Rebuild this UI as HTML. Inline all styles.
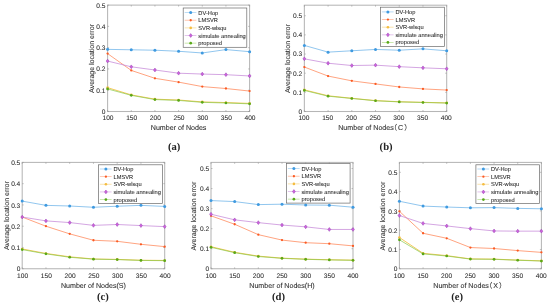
<!DOCTYPE html>
<html><head><meta charset="utf-8"><title>Figure</title>
<style>
html,body{margin:0;padding:0;background:#fff;}
body{width:550px;height:306px;overflow:hidden;}
svg{display:block;filter:blur(0.3px);}
.t{font-family:"Liberation Sans","Noto Sans CJK SC",sans-serif;fill:#2e2e2e;text-rendering:geometricPrecision;stroke:#2e2e2e;stroke-width:0.08px;}
.cap{font-family:"Liberation Serif",serif;font-weight:bold;font-size:10.6px;fill:#222;text-rendering:geometricPrecision;}
</style></head><body>
<svg width="550" height="306" viewBox="0 0 550 306">
<rect width="550" height="306" fill="#fff"/>
<g>
<g class="plot" id="pa">
<rect x="107.60" y="5.10" width="142.00" height="106.40" fill="#fff" stroke="#b6b6b6" stroke-width="1.05"/>
<path d="M107.60 111.50v-1.5M107.60 5.10v1.5" stroke="#8a8a8a" stroke-width="0.5"/>
<text x="108.00" y="120.30" class="t" text-anchor="middle" font-size="6.6">100</text>
<path d="M131.27 111.50v-1.5M131.27 5.10v1.5" stroke="#8a8a8a" stroke-width="0.5"/>
<text x="131.67" y="120.30" class="t" text-anchor="middle" font-size="6.6">150</text>
<path d="M154.93 111.50v-1.5M154.93 5.10v1.5" stroke="#8a8a8a" stroke-width="0.5"/>
<text x="155.33" y="120.30" class="t" text-anchor="middle" font-size="6.6">200</text>
<path d="M178.60 111.50v-1.5M178.60 5.10v1.5" stroke="#8a8a8a" stroke-width="0.5"/>
<text x="179.00" y="120.30" class="t" text-anchor="middle" font-size="6.6">250</text>
<path d="M202.27 111.50v-1.5M202.27 5.10v1.5" stroke="#8a8a8a" stroke-width="0.5"/>
<text x="202.67" y="120.30" class="t" text-anchor="middle" font-size="6.6">300</text>
<path d="M225.93 111.50v-1.5M225.93 5.10v1.5" stroke="#8a8a8a" stroke-width="0.5"/>
<text x="226.33" y="120.30" class="t" text-anchor="middle" font-size="6.6">350</text>
<path d="M249.60 111.50v-1.5M249.60 5.10v1.5" stroke="#8a8a8a" stroke-width="0.5"/>
<text x="250.00" y="120.30" class="t" text-anchor="middle" font-size="6.6">400</text>
<path d="M107.60 111.50h1.5M249.60 111.50h-1.5" stroke="#8a8a8a" stroke-width="0.5"/>
<text x="105.40" y="113.90" class="t" text-anchor="end" font-size="6.6">0</text>
<path d="M107.60 90.22h1.5M249.60 90.22h-1.5" stroke="#8a8a8a" stroke-width="0.5"/>
<text x="105.40" y="92.62" class="t" text-anchor="end" font-size="6.6">0.1</text>
<path d="M107.60 68.94h1.5M249.60 68.94h-1.5" stroke="#8a8a8a" stroke-width="0.5"/>
<text x="105.40" y="71.34" class="t" text-anchor="end" font-size="6.6">0.2</text>
<path d="M107.60 47.66h1.5M249.60 47.66h-1.5" stroke="#8a8a8a" stroke-width="0.5"/>
<text x="105.40" y="50.06" class="t" text-anchor="end" font-size="6.6">0.3</text>
<path d="M107.60 26.38h1.5M249.60 26.38h-1.5" stroke="#8a8a8a" stroke-width="0.5"/>
<text x="105.40" y="28.78" class="t" text-anchor="end" font-size="6.6">0.4</text>
<path d="M107.60 5.10h1.5M249.60 5.10h-1.5" stroke="#8a8a8a" stroke-width="0.5"/>
<text x="105.40" y="7.50" class="t" text-anchor="end" font-size="6.6">0.5</text>
<text x="178.60" y="129.90" class="t" text-anchor="middle" font-size="7.1">Number of Nodes</text>
<text transform="translate(93.90 58.50) rotate(-90)" class="t" text-anchor="middle" font-size="7.0">Average location error</text>
<polyline points="107.60,49.36 131.27,49.79 154.93,50.21 178.60,51.28 202.27,52.98 225.93,49.58 249.60,51.70" fill="none" stroke="#62aee6" stroke-width="0.7" stroke-linejoin="round"/>
<circle cx="107.60" cy="49.36" r="1.5" fill="#3f9ae0"/>
<circle cx="131.27" cy="49.79" r="1.5" fill="#3f9ae0"/>
<circle cx="154.93" cy="50.21" r="1.5" fill="#3f9ae0"/>
<circle cx="178.60" cy="51.28" r="1.5" fill="#3f9ae0"/>
<circle cx="202.27" cy="52.98" r="1.5" fill="#3f9ae0"/>
<circle cx="225.93" cy="49.58" r="1.5" fill="#3f9ae0"/>
<circle cx="249.60" cy="51.70" r="1.5" fill="#3f9ae0"/>
<polyline points="107.60,53.62 131.27,70.43 154.93,78.30 178.60,82.13 202.27,86.60 225.93,88.52 249.60,91.07" fill="none" stroke="#ff7c4a" stroke-width="0.7" stroke-linejoin="round"/>
<circle cx="107.60" cy="53.62" r="1.15" fill="#fb5a22"/>
<circle cx="131.27" cy="70.43" r="1.15" fill="#fb5a22"/>
<circle cx="154.93" cy="78.30" r="1.15" fill="#fb5a22"/>
<circle cx="178.60" cy="82.13" r="1.15" fill="#fb5a22"/>
<circle cx="202.27" cy="86.60" r="1.15" fill="#fb5a22"/>
<circle cx="225.93" cy="88.52" r="1.15" fill="#fb5a22"/>
<circle cx="249.60" cy="91.07" r="1.15" fill="#fb5a22"/>
<polyline points="107.60,87.67 131.27,94.90 154.93,99.16 178.60,100.01 202.27,101.92 225.93,102.56 249.60,103.41" fill="none" stroke="#f2c24a" stroke-width="0.9" stroke-linejoin="round"/>
<circle cx="107.60" cy="87.67" r="1.3" fill="#f4bc40"/>
<circle cx="131.27" cy="94.90" r="1.3" fill="#f4bc40"/>
<circle cx="154.93" cy="99.16" r="1.3" fill="#f4bc40"/>
<circle cx="178.60" cy="100.01" r="1.3" fill="#f4bc40"/>
<circle cx="202.27" cy="101.92" r="1.3" fill="#f4bc40"/>
<circle cx="225.93" cy="102.56" r="1.3" fill="#f4bc40"/>
<circle cx="249.60" cy="103.41" r="1.3" fill="#f4bc40"/>
<polyline points="107.60,61.07 131.27,66.81 154.93,70.00 178.60,73.20 202.27,74.05 225.93,74.69 249.60,75.96" fill="none" stroke="#c27fd6" stroke-width="0.7" stroke-linejoin="round"/>
<path d="M107.60 59.17l1.4 1.9l-1.4 1.9l-1.4 -1.9z" fill="#cf62dc" stroke="#9c45ba" stroke-width="0.55" stroke-linejoin="round"/>
<path d="M131.27 64.91l1.4 1.9l-1.4 1.9l-1.4 -1.9z" fill="#cf62dc" stroke="#9c45ba" stroke-width="0.55" stroke-linejoin="round"/>
<path d="M154.93 68.10l1.4 1.9l-1.4 1.9l-1.4 -1.9z" fill="#cf62dc" stroke="#9c45ba" stroke-width="0.55" stroke-linejoin="round"/>
<path d="M178.60 71.30l1.4 1.9l-1.4 1.9l-1.4 -1.9z" fill="#cf62dc" stroke="#9c45ba" stroke-width="0.55" stroke-linejoin="round"/>
<path d="M202.27 72.15l1.4 1.9l-1.4 1.9l-1.4 -1.9z" fill="#cf62dc" stroke="#9c45ba" stroke-width="0.55" stroke-linejoin="round"/>
<path d="M225.93 72.79l1.4 1.9l-1.4 1.9l-1.4 -1.9z" fill="#cf62dc" stroke="#9c45ba" stroke-width="0.55" stroke-linejoin="round"/>
<path d="M249.60 74.06l1.4 1.9l-1.4 1.9l-1.4 -1.9z" fill="#cf62dc" stroke="#9c45ba" stroke-width="0.55" stroke-linejoin="round"/>
<polyline points="107.60,88.94 131.27,95.33 154.93,99.58 178.60,100.43 202.27,102.35 225.93,102.99 249.60,103.84" fill="none" stroke="#86c848" stroke-width="0.7" stroke-linejoin="round"/>
<circle cx="107.60" cy="88.94" r="1.35" fill="#58a818"/>
<circle cx="131.27" cy="95.33" r="1.35" fill="#58a818"/>
<circle cx="154.93" cy="99.58" r="1.35" fill="#58a818"/>
<circle cx="178.60" cy="100.43" r="1.35" fill="#58a818"/>
<circle cx="202.27" cy="102.35" r="1.35" fill="#58a818"/>
<circle cx="225.93" cy="102.99" r="1.35" fill="#58a818"/>
<circle cx="249.60" cy="103.84" r="1.35" fill="#58a818"/>
<rect x="183.20" y="8.00" width="63.60" height="39.30" fill="#fff" stroke="#6a6a6a" stroke-width="0.7"/>
<path d="M184.70 12.60h11.7" stroke="#62aee6" stroke-width="0.7" opacity="0.65"/>
<circle cx="190.70" cy="12.60" r="1.5" fill="#3f9ae0"/>
<text x="198.30" y="14.60" class="t" font-size="5.7">DV-Hop</text>
<path d="M184.70 20.24h11.7" stroke="#ff7c4a" stroke-width="0.7" opacity="0.65"/>
<circle cx="190.70" cy="20.24" r="1.15" fill="#fb5a22"/>
<text x="198.30" y="22.24" class="t" font-size="5.7">LMSVR</text>
<path d="M184.70 27.88h11.7" stroke="#f2c24a" stroke-width="0.7" opacity="0.65"/>
<circle cx="190.70" cy="27.88" r="1.3" fill="#f4bc40"/>
<text x="198.30" y="29.88" class="t" font-size="5.7">SVR-wlsqu</text>
<path d="M184.70 35.52h11.7" stroke="#c27fd6" stroke-width="0.7" opacity="0.65"/>
<path d="M190.70 33.62l1.4 1.9l-1.4 1.9l-1.4 -1.9z" fill="#cf62dc" stroke="#9c45ba" stroke-width="0.55" stroke-linejoin="round"/>
<text x="198.30" y="37.52" class="t" font-size="5.7">simulate annealing</text>
<path d="M184.70 43.16h11.7" stroke="#86c848" stroke-width="0.7" opacity="0.65"/>
<circle cx="190.70" cy="43.16" r="1.35" fill="#58a818"/>
<text x="198.30" y="45.16" class="t" font-size="5.7">proposed</text>
<text x="174.1" y="149.5" class="cap" text-anchor="middle">(a)</text>
</g>
<g class="plot" id="pb">
<rect x="304.35" y="5.20" width="142.35" height="106.30" fill="#fff" stroke="#b6b6b6" stroke-width="1.05"/>
<path d="M304.35 111.50v-1.5M304.35 5.20v1.5" stroke="#8a8a8a" stroke-width="0.5"/>
<text x="303.95" y="120.30" class="t" text-anchor="middle" font-size="6.6">100</text>
<path d="M328.08 111.50v-1.5M328.08 5.20v1.5" stroke="#8a8a8a" stroke-width="0.5"/>
<text x="327.68" y="120.30" class="t" text-anchor="middle" font-size="6.6">150</text>
<path d="M351.80 111.50v-1.5M351.80 5.20v1.5" stroke="#8a8a8a" stroke-width="0.5"/>
<text x="351.40" y="120.30" class="t" text-anchor="middle" font-size="6.6">200</text>
<path d="M375.52 111.50v-1.5M375.52 5.20v1.5" stroke="#8a8a8a" stroke-width="0.5"/>
<text x="375.12" y="120.30" class="t" text-anchor="middle" font-size="6.6">250</text>
<path d="M399.25 111.50v-1.5M399.25 5.20v1.5" stroke="#8a8a8a" stroke-width="0.5"/>
<text x="398.85" y="120.30" class="t" text-anchor="middle" font-size="6.6">300</text>
<path d="M422.98 111.50v-1.5M422.98 5.20v1.5" stroke="#8a8a8a" stroke-width="0.5"/>
<text x="422.58" y="120.30" class="t" text-anchor="middle" font-size="6.6">350</text>
<path d="M446.70 111.50v-1.5M446.70 5.20v1.5" stroke="#8a8a8a" stroke-width="0.5"/>
<text x="446.30" y="120.30" class="t" text-anchor="middle" font-size="6.6">400</text>
<path d="M304.35 111.50h1.5M446.70 111.50h-1.5" stroke="#8a8a8a" stroke-width="0.5"/>
<text x="302.15" y="113.90" class="t" text-anchor="end" font-size="6.6">0</text>
<path d="M304.35 92.35h1.5M446.70 92.35h-1.5" stroke="#8a8a8a" stroke-width="0.5"/>
<text x="302.15" y="94.75" class="t" text-anchor="end" font-size="6.6">0.1</text>
<path d="M304.35 73.19h1.5M446.70 73.19h-1.5" stroke="#8a8a8a" stroke-width="0.5"/>
<text x="302.15" y="75.59" class="t" text-anchor="end" font-size="6.6">0.2</text>
<path d="M304.35 54.04h1.5M446.70 54.04h-1.5" stroke="#8a8a8a" stroke-width="0.5"/>
<text x="302.15" y="56.44" class="t" text-anchor="end" font-size="6.6">0.3</text>
<path d="M304.35 34.89h1.5M446.70 34.89h-1.5" stroke="#8a8a8a" stroke-width="0.5"/>
<text x="302.15" y="37.29" class="t" text-anchor="end" font-size="6.6">0.4</text>
<path d="M304.35 15.73h1.5M446.70 15.73h-1.5" stroke="#8a8a8a" stroke-width="0.5"/>
<text x="302.15" y="18.13" class="t" text-anchor="end" font-size="6.6">0.5</text>
<text x="374.82" y="129.90" class="t" text-anchor="middle" font-size="7.1">Number of Nodes<tspan dx="-3.7">（</tspan><tspan dx="0.9">C</tspan><tspan dx="1.1">）</tspan></text>
<text transform="translate(289.95 58.55) rotate(-90)" class="t" text-anchor="middle" font-size="7.0">Average location error</text>
<polyline points="304.35,45.42 328.08,52.13 351.80,50.78 375.52,49.44 399.25,50.21 422.98,48.87 446.70,50.78" fill="none" stroke="#62aee6" stroke-width="0.7" stroke-linejoin="round"/>
<circle cx="304.35" cy="45.42" r="1.5" fill="#3f9ae0"/>
<circle cx="328.08" cy="52.13" r="1.5" fill="#3f9ae0"/>
<circle cx="351.80" cy="50.78" r="1.5" fill="#3f9ae0"/>
<circle cx="375.52" cy="49.44" r="1.5" fill="#3f9ae0"/>
<circle cx="399.25" cy="50.21" r="1.5" fill="#3f9ae0"/>
<circle cx="422.98" cy="48.87" r="1.5" fill="#3f9ae0"/>
<circle cx="446.70" cy="50.78" r="1.5" fill="#3f9ae0"/>
<polyline points="304.35,67.06 328.08,76.07 351.80,80.85 375.52,83.92 399.25,86.98 422.98,88.90 446.70,90.05" fill="none" stroke="#ff7c4a" stroke-width="0.7" stroke-linejoin="round"/>
<circle cx="304.35" cy="67.06" r="1.15" fill="#fb5a22"/>
<circle cx="328.08" cy="76.07" r="1.15" fill="#fb5a22"/>
<circle cx="351.80" cy="80.85" r="1.15" fill="#fb5a22"/>
<circle cx="375.52" cy="83.92" r="1.15" fill="#fb5a22"/>
<circle cx="399.25" cy="86.98" r="1.15" fill="#fb5a22"/>
<circle cx="422.98" cy="88.90" r="1.15" fill="#fb5a22"/>
<circle cx="446.70" cy="90.05" r="1.15" fill="#fb5a22"/>
<polyline points="304.35,89.86 328.08,95.79 351.80,98.28 375.52,100.58 399.25,101.73 422.98,102.31 446.70,102.88" fill="none" stroke="#f2c24a" stroke-width="0.9" stroke-linejoin="round"/>
<circle cx="304.35" cy="89.86" r="1.3" fill="#f4bc40"/>
<circle cx="328.08" cy="95.79" r="1.3" fill="#f4bc40"/>
<circle cx="351.80" cy="98.28" r="1.3" fill="#f4bc40"/>
<circle cx="375.52" cy="100.58" r="1.3" fill="#f4bc40"/>
<circle cx="399.25" cy="101.73" r="1.3" fill="#f4bc40"/>
<circle cx="422.98" cy="102.31" r="1.3" fill="#f4bc40"/>
<circle cx="446.70" cy="102.88" r="1.3" fill="#f4bc40"/>
<polyline points="304.35,58.83 328.08,63.23 351.80,65.53 375.52,65.15 399.25,66.68 422.98,67.83 446.70,68.79" fill="none" stroke="#c27fd6" stroke-width="0.7" stroke-linejoin="round"/>
<path d="M304.35 56.93l1.4 1.9l-1.4 1.9l-1.4 -1.9z" fill="#cf62dc" stroke="#9c45ba" stroke-width="0.55" stroke-linejoin="round"/>
<path d="M328.08 61.33l1.4 1.9l-1.4 1.9l-1.4 -1.9z" fill="#cf62dc" stroke="#9c45ba" stroke-width="0.55" stroke-linejoin="round"/>
<path d="M351.80 63.63l1.4 1.9l-1.4 1.9l-1.4 -1.9z" fill="#cf62dc" stroke="#9c45ba" stroke-width="0.55" stroke-linejoin="round"/>
<path d="M375.52 63.25l1.4 1.9l-1.4 1.9l-1.4 -1.9z" fill="#cf62dc" stroke="#9c45ba" stroke-width="0.55" stroke-linejoin="round"/>
<path d="M399.25 64.78l1.4 1.9l-1.4 1.9l-1.4 -1.9z" fill="#cf62dc" stroke="#9c45ba" stroke-width="0.55" stroke-linejoin="round"/>
<path d="M422.98 65.93l1.4 1.9l-1.4 1.9l-1.4 -1.9z" fill="#cf62dc" stroke="#9c45ba" stroke-width="0.55" stroke-linejoin="round"/>
<path d="M446.70 66.89l1.4 1.9l-1.4 1.9l-1.4 -1.9z" fill="#cf62dc" stroke="#9c45ba" stroke-width="0.55" stroke-linejoin="round"/>
<polyline points="304.35,90.43 328.08,96.18 351.80,98.48 375.52,100.77 399.25,101.92 422.98,102.50 446.70,103.07" fill="none" stroke="#86c848" stroke-width="0.7" stroke-linejoin="round"/>
<circle cx="304.35" cy="90.43" r="1.35" fill="#58a818"/>
<circle cx="328.08" cy="96.18" r="1.35" fill="#58a818"/>
<circle cx="351.80" cy="98.48" r="1.35" fill="#58a818"/>
<circle cx="375.52" cy="100.77" r="1.35" fill="#58a818"/>
<circle cx="399.25" cy="101.92" r="1.35" fill="#58a818"/>
<circle cx="422.98" cy="102.50" r="1.35" fill="#58a818"/>
<circle cx="446.70" cy="103.07" r="1.35" fill="#58a818"/>
<rect x="380.40" y="7.20" width="64.10" height="39.30" fill="#fff" stroke="#6a6a6a" stroke-width="0.7"/>
<path d="M381.90 11.90h11.7" stroke="#62aee6" stroke-width="0.7" opacity="0.65"/>
<circle cx="387.90" cy="11.90" r="1.5" fill="#3f9ae0"/>
<text x="395.50" y="13.90" class="t" font-size="5.7">DV-Hop</text>
<path d="M381.90 19.54h11.7" stroke="#ff7c4a" stroke-width="0.7" opacity="0.65"/>
<circle cx="387.90" cy="19.54" r="1.15" fill="#fb5a22"/>
<text x="395.50" y="21.54" class="t" font-size="5.7">LMSVR</text>
<path d="M381.90 27.18h11.7" stroke="#f2c24a" stroke-width="0.7" opacity="0.65"/>
<circle cx="387.90" cy="27.18" r="1.3" fill="#f4bc40"/>
<text x="395.50" y="29.18" class="t" font-size="5.7">SVR-wlsqu</text>
<path d="M381.90 34.82h11.7" stroke="#c27fd6" stroke-width="0.7" opacity="0.65"/>
<path d="M387.90 32.92l1.4 1.9l-1.4 1.9l-1.4 -1.9z" fill="#cf62dc" stroke="#9c45ba" stroke-width="0.55" stroke-linejoin="round"/>
<text x="395.50" y="36.82" class="t" font-size="5.7">simulate annealing</text>
<path d="M381.90 42.46h11.7" stroke="#86c848" stroke-width="0.7" opacity="0.65"/>
<circle cx="387.90" cy="42.46" r="1.35" fill="#58a818"/>
<text x="395.50" y="44.46" class="t" font-size="5.7">proposed</text>
<text x="386.1" y="149.5" class="cap" text-anchor="middle">(b)</text>
</g>
<g class="plot" id="pc">
<rect x="22.20" y="162.40" width="142.50" height="106.35" fill="#fff" stroke="#b6b6b6" stroke-width="1.05"/>
<path d="M22.20 268.75v-1.5M22.20 162.40v1.5" stroke="#8a8a8a" stroke-width="0.5"/>
<text x="22.60" y="278.25" class="t" text-anchor="middle" font-size="6.6">100</text>
<path d="M45.95 268.75v-1.5M45.95 162.40v1.5" stroke="#8a8a8a" stroke-width="0.5"/>
<text x="46.35" y="278.25" class="t" text-anchor="middle" font-size="6.6">150</text>
<path d="M69.70 268.75v-1.5M69.70 162.40v1.5" stroke="#8a8a8a" stroke-width="0.5"/>
<text x="70.10" y="278.25" class="t" text-anchor="middle" font-size="6.6">200</text>
<path d="M93.45 268.75v-1.5M93.45 162.40v1.5" stroke="#8a8a8a" stroke-width="0.5"/>
<text x="93.85" y="278.25" class="t" text-anchor="middle" font-size="6.6">250</text>
<path d="M117.20 268.75v-1.5M117.20 162.40v1.5" stroke="#8a8a8a" stroke-width="0.5"/>
<text x="117.60" y="278.25" class="t" text-anchor="middle" font-size="6.6">300</text>
<path d="M140.95 268.75v-1.5M140.95 162.40v1.5" stroke="#8a8a8a" stroke-width="0.5"/>
<text x="141.35" y="278.25" class="t" text-anchor="middle" font-size="6.6">350</text>
<path d="M164.70 268.75v-1.5M164.70 162.40v1.5" stroke="#8a8a8a" stroke-width="0.5"/>
<text x="165.10" y="278.25" class="t" text-anchor="middle" font-size="6.6">400</text>
<path d="M22.20 268.75h1.5M164.70 268.75h-1.5" stroke="#8a8a8a" stroke-width="0.5"/>
<text x="20.30" y="271.35" class="t" text-anchor="end" font-size="6.6">0</text>
<path d="M22.20 247.48h1.5M164.70 247.48h-1.5" stroke="#8a8a8a" stroke-width="0.5"/>
<text x="20.30" y="250.08" class="t" text-anchor="end" font-size="6.6">0.1</text>
<path d="M22.20 226.21h1.5M164.70 226.21h-1.5" stroke="#8a8a8a" stroke-width="0.5"/>
<text x="20.30" y="228.81" class="t" text-anchor="end" font-size="6.6">0.2</text>
<path d="M22.20 204.94h1.5M164.70 204.94h-1.5" stroke="#8a8a8a" stroke-width="0.5"/>
<text x="20.30" y="207.54" class="t" text-anchor="end" font-size="6.6">0.3</text>
<path d="M22.20 183.67h1.5M164.70 183.67h-1.5" stroke="#8a8a8a" stroke-width="0.5"/>
<text x="20.30" y="186.27" class="t" text-anchor="end" font-size="6.6">0.4</text>
<path d="M22.20 162.40h1.5M164.70 162.40h-1.5" stroke="#8a8a8a" stroke-width="0.5"/>
<text x="20.30" y="165.00" class="t" text-anchor="end" font-size="6.6">0.5</text>
<text x="93.45" y="287.55" class="t" text-anchor="middle" font-size="7.1">Number of Nodes(S)</text>
<text transform="translate(9.00 215.57) rotate(-90)" class="t" text-anchor="middle" font-size="7.0">Average location error</text>
<polyline points="22.20,201.11 45.95,205.37 69.70,206.00 93.45,207.28 117.20,206.22 140.95,205.37 164.70,206.43" fill="none" stroke="#62aee6" stroke-width="0.7" stroke-linejoin="round"/>
<circle cx="22.20" cy="201.11" r="1.5" fill="#3f9ae0"/>
<circle cx="45.95" cy="205.37" r="1.5" fill="#3f9ae0"/>
<circle cx="69.70" cy="206.00" r="1.5" fill="#3f9ae0"/>
<circle cx="93.45" cy="207.28" r="1.5" fill="#3f9ae0"/>
<circle cx="117.20" cy="206.22" r="1.5" fill="#3f9ae0"/>
<circle cx="140.95" cy="205.37" r="1.5" fill="#3f9ae0"/>
<circle cx="164.70" cy="206.43" r="1.5" fill="#3f9ae0"/>
<polyline points="22.20,217.06 45.95,226.21 69.70,233.87 93.45,240.25 117.20,241.31 140.95,244.29 164.70,246.63" fill="none" stroke="#ff7c4a" stroke-width="0.7" stroke-linejoin="round"/>
<circle cx="22.20" cy="217.06" r="1.15" fill="#fb5a22"/>
<circle cx="45.95" cy="226.21" r="1.15" fill="#fb5a22"/>
<circle cx="69.70" cy="233.87" r="1.15" fill="#fb5a22"/>
<circle cx="93.45" cy="240.25" r="1.15" fill="#fb5a22"/>
<circle cx="117.20" cy="241.31" r="1.15" fill="#fb5a22"/>
<circle cx="140.95" cy="244.29" r="1.15" fill="#fb5a22"/>
<circle cx="164.70" cy="246.63" r="1.15" fill="#fb5a22"/>
<polyline points="22.20,248.97 45.95,253.44 69.70,256.84 93.45,258.97 117.20,259.39 140.95,260.24 164.70,260.45" fill="none" stroke="#f2c24a" stroke-width="0.9" stroke-linejoin="round"/>
<circle cx="22.20" cy="248.97" r="1.3" fill="#f4bc40"/>
<circle cx="45.95" cy="253.44" r="1.3" fill="#f4bc40"/>
<circle cx="69.70" cy="256.84" r="1.3" fill="#f4bc40"/>
<circle cx="93.45" cy="258.97" r="1.3" fill="#f4bc40"/>
<circle cx="117.20" cy="259.39" r="1.3" fill="#f4bc40"/>
<circle cx="140.95" cy="260.24" r="1.3" fill="#f4bc40"/>
<circle cx="164.70" cy="260.45" r="1.3" fill="#f4bc40"/>
<polyline points="22.20,217.06 45.95,220.89 69.70,222.59 93.45,225.36 117.20,224.51 140.95,225.57 164.70,226.64" fill="none" stroke="#c27fd6" stroke-width="0.7" stroke-linejoin="round"/>
<path d="M22.20 215.16l1.4 1.9l-1.4 1.9l-1.4 -1.9z" fill="#cf62dc" stroke="#9c45ba" stroke-width="0.55" stroke-linejoin="round"/>
<path d="M45.95 218.99l1.4 1.9l-1.4 1.9l-1.4 -1.9z" fill="#cf62dc" stroke="#9c45ba" stroke-width="0.55" stroke-linejoin="round"/>
<path d="M69.70 220.69l1.4 1.9l-1.4 1.9l-1.4 -1.9z" fill="#cf62dc" stroke="#9c45ba" stroke-width="0.55" stroke-linejoin="round"/>
<path d="M93.45 223.46l1.4 1.9l-1.4 1.9l-1.4 -1.9z" fill="#cf62dc" stroke="#9c45ba" stroke-width="0.55" stroke-linejoin="round"/>
<path d="M117.20 222.61l1.4 1.9l-1.4 1.9l-1.4 -1.9z" fill="#cf62dc" stroke="#9c45ba" stroke-width="0.55" stroke-linejoin="round"/>
<path d="M140.95 223.67l1.4 1.9l-1.4 1.9l-1.4 -1.9z" fill="#cf62dc" stroke="#9c45ba" stroke-width="0.55" stroke-linejoin="round"/>
<path d="M164.70 224.74l1.4 1.9l-1.4 1.9l-1.4 -1.9z" fill="#cf62dc" stroke="#9c45ba" stroke-width="0.55" stroke-linejoin="round"/>
<polyline points="22.20,249.61 45.95,253.86 69.70,257.26 93.45,259.18 117.20,259.60 140.95,260.45 164.70,260.67" fill="none" stroke="#86c848" stroke-width="0.7" stroke-linejoin="round"/>
<circle cx="22.20" cy="249.61" r="1.35" fill="#58a818"/>
<circle cx="45.95" cy="253.86" r="1.35" fill="#58a818"/>
<circle cx="69.70" cy="257.26" r="1.35" fill="#58a818"/>
<circle cx="93.45" cy="259.18" r="1.35" fill="#58a818"/>
<circle cx="117.20" cy="259.60" r="1.35" fill="#58a818"/>
<circle cx="140.95" cy="260.45" r="1.35" fill="#58a818"/>
<circle cx="164.70" cy="260.67" r="1.35" fill="#58a818"/>
<rect x="98.40" y="164.80" width="64.00" height="38.70" fill="#fff" stroke="#6a6a6a" stroke-width="0.7"/>
<path d="M99.90 169.00h11.7" stroke="#62aee6" stroke-width="0.7" opacity="0.65"/>
<circle cx="105.90" cy="169.00" r="1.5" fill="#3f9ae0"/>
<text x="113.50" y="171.00" class="t" font-size="5.7">DV-Hop</text>
<path d="M99.90 176.64h11.7" stroke="#ff7c4a" stroke-width="0.7" opacity="0.65"/>
<circle cx="105.90" cy="176.64" r="1.15" fill="#fb5a22"/>
<text x="113.50" y="178.64" class="t" font-size="5.7">LMSVR</text>
<path d="M99.90 184.28h11.7" stroke="#f2c24a" stroke-width="0.7" opacity="0.65"/>
<circle cx="105.90" cy="184.28" r="1.3" fill="#f4bc40"/>
<text x="113.50" y="186.28" class="t" font-size="5.7">SVR-wlsqu</text>
<path d="M99.90 191.92h11.7" stroke="#c27fd6" stroke-width="0.7" opacity="0.65"/>
<path d="M105.90 190.02l1.4 1.9l-1.4 1.9l-1.4 -1.9z" fill="#cf62dc" stroke="#9c45ba" stroke-width="0.55" stroke-linejoin="round"/>
<text x="113.50" y="193.92" class="t" font-size="5.7">simulate annealing</text>
<path d="M99.90 199.56h11.7" stroke="#86c848" stroke-width="0.7" opacity="0.65"/>
<circle cx="105.90" cy="199.56" r="1.35" fill="#58a818"/>
<text x="113.50" y="201.56" class="t" font-size="5.7">proposed</text>
<text x="102.9" y="300" class="cap" text-anchor="middle">(c)</text>
</g>
<g class="plot" id="pd">
<rect x="211.00" y="162.40" width="142.00" height="106.35" fill="#fff" stroke="#b6b6b6" stroke-width="1.05"/>
<path d="M211.00 268.75v-1.5M211.00 162.40v1.5" stroke="#8a8a8a" stroke-width="0.5"/>
<text x="211.00" y="278.25" class="t" text-anchor="middle" font-size="6.6">100</text>
<path d="M234.67 268.75v-1.5M234.67 162.40v1.5" stroke="#8a8a8a" stroke-width="0.5"/>
<text x="234.67" y="278.25" class="t" text-anchor="middle" font-size="6.6">150</text>
<path d="M258.33 268.75v-1.5M258.33 162.40v1.5" stroke="#8a8a8a" stroke-width="0.5"/>
<text x="258.33" y="278.25" class="t" text-anchor="middle" font-size="6.6">200</text>
<path d="M282.00 268.75v-1.5M282.00 162.40v1.5" stroke="#8a8a8a" stroke-width="0.5"/>
<text x="282.00" y="278.25" class="t" text-anchor="middle" font-size="6.6">250</text>
<path d="M305.67 268.75v-1.5M305.67 162.40v1.5" stroke="#8a8a8a" stroke-width="0.5"/>
<text x="305.67" y="278.25" class="t" text-anchor="middle" font-size="6.6">300</text>
<path d="M329.33 268.75v-1.5M329.33 162.40v1.5" stroke="#8a8a8a" stroke-width="0.5"/>
<text x="329.33" y="278.25" class="t" text-anchor="middle" font-size="6.6">350</text>
<path d="M353.00 268.75v-1.5M353.00 162.40v1.5" stroke="#8a8a8a" stroke-width="0.5"/>
<text x="353.00" y="278.25" class="t" text-anchor="middle" font-size="6.6">400</text>
<path d="M211.00 268.75h1.5M353.00 268.75h-1.5" stroke="#8a8a8a" stroke-width="0.5"/>
<text x="209.10" y="271.35" class="t" text-anchor="end" font-size="6.6">0</text>
<path d="M211.00 248.70h1.5M353.00 248.70h-1.5" stroke="#8a8a8a" stroke-width="0.5"/>
<text x="209.10" y="251.30" class="t" text-anchor="end" font-size="6.6">0.1</text>
<path d="M211.00 228.66h1.5M353.00 228.66h-1.5" stroke="#8a8a8a" stroke-width="0.5"/>
<text x="209.10" y="231.26" class="t" text-anchor="end" font-size="6.6">0.2</text>
<path d="M211.00 208.61h1.5M353.00 208.61h-1.5" stroke="#8a8a8a" stroke-width="0.5"/>
<text x="209.10" y="211.21" class="t" text-anchor="end" font-size="6.6">0.3</text>
<path d="M211.00 188.56h1.5M353.00 188.56h-1.5" stroke="#8a8a8a" stroke-width="0.5"/>
<text x="209.10" y="191.16" class="t" text-anchor="end" font-size="6.6">0.4</text>
<path d="M211.00 168.51h1.5M353.00 168.51h-1.5" stroke="#8a8a8a" stroke-width="0.5"/>
<text x="209.10" y="171.11" class="t" text-anchor="end" font-size="6.6">0.5</text>
<text x="282.00" y="287.55" class="t" text-anchor="middle" font-size="7.1">Number of Nodes(H)</text>
<text transform="translate(196.10 216.07) rotate(-90)" class="t" text-anchor="middle" font-size="7.0">Average location error</text>
<polyline points="211.00,200.59 234.67,201.59 258.33,204.60 282.00,204.20 305.67,205.00 329.33,205.20 353.00,207.21" fill="none" stroke="#62aee6" stroke-width="0.7" stroke-linejoin="round"/>
<circle cx="211.00" cy="200.59" r="1.5" fill="#3f9ae0"/>
<circle cx="234.67" cy="201.59" r="1.5" fill="#3f9ae0"/>
<circle cx="258.33" cy="204.60" r="1.5" fill="#3f9ae0"/>
<circle cx="282.00" cy="204.20" r="1.5" fill="#3f9ae0"/>
<circle cx="305.67" cy="205.00" r="1.5" fill="#3f9ae0"/>
<circle cx="329.33" cy="205.20" r="1.5" fill="#3f9ae0"/>
<circle cx="353.00" cy="207.21" r="1.5" fill="#3f9ae0"/>
<polyline points="211.00,215.83 234.67,224.25 258.33,234.67 282.00,240.08 305.67,242.69 329.33,243.69 353.00,245.90" fill="none" stroke="#ff7c4a" stroke-width="0.7" stroke-linejoin="round"/>
<circle cx="211.00" cy="215.83" r="1.15" fill="#fb5a22"/>
<circle cx="234.67" cy="224.25" r="1.15" fill="#fb5a22"/>
<circle cx="258.33" cy="234.67" r="1.15" fill="#fb5a22"/>
<circle cx="282.00" cy="240.08" r="1.15" fill="#fb5a22"/>
<circle cx="305.67" cy="242.69" r="1.15" fill="#fb5a22"/>
<circle cx="329.33" cy="243.69" r="1.15" fill="#fb5a22"/>
<circle cx="353.00" cy="245.90" r="1.15" fill="#fb5a22"/>
<polyline points="211.00,246.70 234.67,252.31 258.33,256.12 282.00,258.13 305.67,259.13 329.33,259.73 353.00,260.13" fill="none" stroke="#f2c24a" stroke-width="0.9" stroke-linejoin="round"/>
<circle cx="211.00" cy="246.70" r="1.3" fill="#f4bc40"/>
<circle cx="234.67" cy="252.31" r="1.3" fill="#f4bc40"/>
<circle cx="258.33" cy="256.12" r="1.3" fill="#f4bc40"/>
<circle cx="282.00" cy="258.13" r="1.3" fill="#f4bc40"/>
<circle cx="305.67" cy="259.13" r="1.3" fill="#f4bc40"/>
<circle cx="329.33" cy="259.73" r="1.3" fill="#f4bc40"/>
<circle cx="353.00" cy="260.13" r="1.3" fill="#f4bc40"/>
<polyline points="211.00,214.22 234.67,219.84 258.33,222.64 282.00,225.05 305.67,226.85 329.33,229.46 353.00,229.46" fill="none" stroke="#c27fd6" stroke-width="0.7" stroke-linejoin="round"/>
<path d="M211.00 212.32l1.4 1.9l-1.4 1.9l-1.4 -1.9z" fill="#cf62dc" stroke="#9c45ba" stroke-width="0.55" stroke-linejoin="round"/>
<path d="M234.67 217.94l1.4 1.9l-1.4 1.9l-1.4 -1.9z" fill="#cf62dc" stroke="#9c45ba" stroke-width="0.55" stroke-linejoin="round"/>
<path d="M258.33 220.74l1.4 1.9l-1.4 1.9l-1.4 -1.9z" fill="#cf62dc" stroke="#9c45ba" stroke-width="0.55" stroke-linejoin="round"/>
<path d="M282.00 223.15l1.4 1.9l-1.4 1.9l-1.4 -1.9z" fill="#cf62dc" stroke="#9c45ba" stroke-width="0.55" stroke-linejoin="round"/>
<path d="M305.67 224.95l1.4 1.9l-1.4 1.9l-1.4 -1.9z" fill="#cf62dc" stroke="#9c45ba" stroke-width="0.55" stroke-linejoin="round"/>
<path d="M329.33 227.56l1.4 1.9l-1.4 1.9l-1.4 -1.9z" fill="#cf62dc" stroke="#9c45ba" stroke-width="0.55" stroke-linejoin="round"/>
<path d="M353.00 227.56l1.4 1.9l-1.4 1.9l-1.4 -1.9z" fill="#cf62dc" stroke="#9c45ba" stroke-width="0.55" stroke-linejoin="round"/>
<polyline points="211.00,247.30 234.67,252.71 258.33,256.52 282.00,258.33 305.67,259.33 329.33,259.93 353.00,260.33" fill="none" stroke="#86c848" stroke-width="0.7" stroke-linejoin="round"/>
<circle cx="211.00" cy="247.30" r="1.35" fill="#58a818"/>
<circle cx="234.67" cy="252.71" r="1.35" fill="#58a818"/>
<circle cx="258.33" cy="256.52" r="1.35" fill="#58a818"/>
<circle cx="282.00" cy="258.33" r="1.35" fill="#58a818"/>
<circle cx="305.67" cy="259.33" r="1.35" fill="#58a818"/>
<circle cx="329.33" cy="259.93" r="1.35" fill="#58a818"/>
<circle cx="353.00" cy="260.33" r="1.35" fill="#58a818"/>
<rect x="286.40" y="163.60" width="63.70" height="39.50" fill="#fff" stroke="#6a6a6a" stroke-width="0.7"/>
<path d="M287.90 168.60h11.7" stroke="#62aee6" stroke-width="0.7" opacity="0.65"/>
<circle cx="293.90" cy="168.60" r="1.5" fill="#3f9ae0"/>
<text x="301.50" y="170.60" class="t" font-size="5.7">DV-Hop</text>
<path d="M287.90 176.24h11.7" stroke="#ff7c4a" stroke-width="0.7" opacity="0.65"/>
<circle cx="293.90" cy="176.24" r="1.15" fill="#fb5a22"/>
<text x="301.50" y="178.24" class="t" font-size="5.7">LMSVR</text>
<path d="M287.90 183.88h11.7" stroke="#f2c24a" stroke-width="0.7" opacity="0.65"/>
<circle cx="293.90" cy="183.88" r="1.3" fill="#f4bc40"/>
<text x="301.50" y="185.88" class="t" font-size="5.7">SVR-wlsqu</text>
<path d="M287.90 191.52h11.7" stroke="#c27fd6" stroke-width="0.7" opacity="0.65"/>
<path d="M293.90 189.62l1.4 1.9l-1.4 1.9l-1.4 -1.9z" fill="#cf62dc" stroke="#9c45ba" stroke-width="0.55" stroke-linejoin="round"/>
<text x="301.50" y="193.52" class="t" font-size="5.7">simulate annealing</text>
<path d="M287.90 199.16h11.7" stroke="#86c848" stroke-width="0.7" opacity="0.65"/>
<circle cx="293.90" cy="199.16" r="1.35" fill="#58a818"/>
<text x="301.50" y="201.16" class="t" font-size="5.7">proposed</text>
<text x="278.5" y="300" class="cap" text-anchor="middle">(d)</text>
</g>
<g class="plot" id="pe">
<rect x="399.40" y="162.40" width="142.00" height="106.35" fill="#fff" stroke="#b6b6b6" stroke-width="1.05"/>
<path d="M399.40 268.75v-1.5M399.40 162.40v1.5" stroke="#8a8a8a" stroke-width="0.5"/>
<text x="399.30" y="278.25" class="t" text-anchor="middle" font-size="6.6">100</text>
<path d="M423.07 268.75v-1.5M423.07 162.40v1.5" stroke="#8a8a8a" stroke-width="0.5"/>
<text x="422.97" y="278.25" class="t" text-anchor="middle" font-size="6.6">150</text>
<path d="M446.73 268.75v-1.5M446.73 162.40v1.5" stroke="#8a8a8a" stroke-width="0.5"/>
<text x="446.63" y="278.25" class="t" text-anchor="middle" font-size="6.6">200</text>
<path d="M470.40 268.75v-1.5M470.40 162.40v1.5" stroke="#8a8a8a" stroke-width="0.5"/>
<text x="470.30" y="278.25" class="t" text-anchor="middle" font-size="6.6">250</text>
<path d="M494.07 268.75v-1.5M494.07 162.40v1.5" stroke="#8a8a8a" stroke-width="0.5"/>
<text x="493.97" y="278.25" class="t" text-anchor="middle" font-size="6.6">300</text>
<path d="M517.73 268.75v-1.5M517.73 162.40v1.5" stroke="#8a8a8a" stroke-width="0.5"/>
<text x="517.63" y="278.25" class="t" text-anchor="middle" font-size="6.6">350</text>
<path d="M541.40 268.75v-1.5M541.40 162.40v1.5" stroke="#8a8a8a" stroke-width="0.5"/>
<text x="541.30" y="278.25" class="t" text-anchor="middle" font-size="6.6">400</text>
<path d="M399.40 268.75h1.5M541.40 268.75h-1.5" stroke="#8a8a8a" stroke-width="0.5"/>
<text x="397.50" y="271.35" class="t" text-anchor="end" font-size="6.6">0</text>
<path d="M399.40 249.47h1.5M541.40 249.47h-1.5" stroke="#8a8a8a" stroke-width="0.5"/>
<text x="397.50" y="252.07" class="t" text-anchor="end" font-size="6.6">0.1</text>
<path d="M399.40 230.18h1.5M541.40 230.18h-1.5" stroke="#8a8a8a" stroke-width="0.5"/>
<text x="397.50" y="232.78" class="t" text-anchor="end" font-size="6.6">0.2</text>
<path d="M399.40 210.90h1.5M541.40 210.90h-1.5" stroke="#8a8a8a" stroke-width="0.5"/>
<text x="397.50" y="213.50" class="t" text-anchor="end" font-size="6.6">0.3</text>
<path d="M399.40 191.61h1.5M541.40 191.61h-1.5" stroke="#8a8a8a" stroke-width="0.5"/>
<text x="397.50" y="194.21" class="t" text-anchor="end" font-size="6.6">0.4</text>
<path d="M399.40 172.33h1.5M541.40 172.33h-1.5" stroke="#8a8a8a" stroke-width="0.5"/>
<text x="397.50" y="174.93" class="t" text-anchor="end" font-size="6.6">0.5</text>
<text x="469.70" y="287.55" class="t" text-anchor="middle" font-size="7.1">Number of Nodes<tspan dx="-3.7">（</tspan><tspan dx="0.9">X</tspan><tspan dx="1.1">）</tspan></text>
<text transform="translate(384.80 216.07) rotate(-90)" class="t" text-anchor="middle" font-size="7.0">Average location error</text>
<polyline points="399.40,201.26 423.07,206.08 446.73,207.04 470.40,207.81 494.07,207.62 517.73,208.39 541.40,208.78" fill="none" stroke="#62aee6" stroke-width="0.7" stroke-linejoin="round"/>
<circle cx="399.40" cy="201.26" r="1.5" fill="#3f9ae0"/>
<circle cx="423.07" cy="206.08" r="1.5" fill="#3f9ae0"/>
<circle cx="446.73" cy="207.04" r="1.5" fill="#3f9ae0"/>
<circle cx="470.40" cy="207.81" r="1.5" fill="#3f9ae0"/>
<circle cx="494.07" cy="207.62" r="1.5" fill="#3f9ae0"/>
<circle cx="517.73" cy="208.39" r="1.5" fill="#3f9ae0"/>
<circle cx="541.40" cy="208.78" r="1.5" fill="#3f9ae0"/>
<polyline points="399.40,211.28 423.07,233.27 446.73,238.28 470.40,247.54 494.07,248.50 517.73,250.62 541.40,252.36" fill="none" stroke="#ff7c4a" stroke-width="0.7" stroke-linejoin="round"/>
<circle cx="399.40" cy="211.28" r="1.15" fill="#fb5a22"/>
<circle cx="423.07" cy="233.27" r="1.15" fill="#fb5a22"/>
<circle cx="446.73" cy="238.28" r="1.15" fill="#fb5a22"/>
<circle cx="470.40" cy="247.54" r="1.15" fill="#fb5a22"/>
<circle cx="494.07" cy="248.50" r="1.15" fill="#fb5a22"/>
<circle cx="517.73" cy="250.62" r="1.15" fill="#fb5a22"/>
<circle cx="541.40" cy="252.36" r="1.15" fill="#fb5a22"/>
<polyline points="399.40,237.51 423.07,253.32 446.73,255.64 470.40,258.92 494.07,259.11 517.73,260.07 541.40,260.84" fill="none" stroke="#f2c24a" stroke-width="0.9" stroke-linejoin="round"/>
<circle cx="399.40" cy="237.51" r="1.3" fill="#f4bc40"/>
<circle cx="423.07" cy="253.32" r="1.3" fill="#f4bc40"/>
<circle cx="446.73" cy="255.64" r="1.3" fill="#f4bc40"/>
<circle cx="470.40" cy="258.92" r="1.3" fill="#f4bc40"/>
<circle cx="494.07" cy="259.11" r="1.3" fill="#f4bc40"/>
<circle cx="517.73" cy="260.07" r="1.3" fill="#f4bc40"/>
<circle cx="541.40" cy="260.84" r="1.3" fill="#f4bc40"/>
<polyline points="399.40,215.53 423.07,223.43 446.73,225.94 470.40,228.64 494.07,230.95 517.73,231.15 541.40,231.15" fill="none" stroke="#c27fd6" stroke-width="0.7" stroke-linejoin="round"/>
<path d="M399.40 213.63l1.4 1.9l-1.4 1.9l-1.4 -1.9z" fill="#cf62dc" stroke="#9c45ba" stroke-width="0.55" stroke-linejoin="round"/>
<path d="M423.07 221.53l1.4 1.9l-1.4 1.9l-1.4 -1.9z" fill="#cf62dc" stroke="#9c45ba" stroke-width="0.55" stroke-linejoin="round"/>
<path d="M446.73 224.04l1.4 1.9l-1.4 1.9l-1.4 -1.9z" fill="#cf62dc" stroke="#9c45ba" stroke-width="0.55" stroke-linejoin="round"/>
<path d="M470.40 226.74l1.4 1.9l-1.4 1.9l-1.4 -1.9z" fill="#cf62dc" stroke="#9c45ba" stroke-width="0.55" stroke-linejoin="round"/>
<path d="M494.07 229.05l1.4 1.9l-1.4 1.9l-1.4 -1.9z" fill="#cf62dc" stroke="#9c45ba" stroke-width="0.55" stroke-linejoin="round"/>
<path d="M517.73 229.25l1.4 1.9l-1.4 1.9l-1.4 -1.9z" fill="#cf62dc" stroke="#9c45ba" stroke-width="0.55" stroke-linejoin="round"/>
<path d="M541.40 229.25l1.4 1.9l-1.4 1.9l-1.4 -1.9z" fill="#cf62dc" stroke="#9c45ba" stroke-width="0.55" stroke-linejoin="round"/>
<polyline points="399.40,239.82 423.07,253.90 446.73,256.02 470.40,259.11 494.07,259.30 517.73,260.27 541.40,261.04" fill="none" stroke="#86c848" stroke-width="0.7" stroke-linejoin="round"/>
<circle cx="399.40" cy="239.82" r="1.35" fill="#58a818"/>
<circle cx="423.07" cy="253.90" r="1.35" fill="#58a818"/>
<circle cx="446.73" cy="256.02" r="1.35" fill="#58a818"/>
<circle cx="470.40" cy="259.11" r="1.35" fill="#58a818"/>
<circle cx="494.07" cy="259.30" r="1.35" fill="#58a818"/>
<circle cx="517.73" cy="260.27" r="1.35" fill="#58a818"/>
<circle cx="541.40" cy="261.04" r="1.35" fill="#58a818"/>
<rect x="475.90" y="164.80" width="63.50" height="38.70" fill="#fff" stroke="#6a6a6a" stroke-width="0.7"/>
<path d="M477.40 169.00h11.7" stroke="#62aee6" stroke-width="0.7" opacity="0.65"/>
<circle cx="483.40" cy="169.00" r="1.5" fill="#3f9ae0"/>
<text x="491.00" y="171.00" class="t" font-size="5.7">DV-Hop</text>
<path d="M477.40 176.64h11.7" stroke="#ff7c4a" stroke-width="0.7" opacity="0.65"/>
<circle cx="483.40" cy="176.64" r="1.15" fill="#fb5a22"/>
<text x="491.00" y="178.64" class="t" font-size="5.7">LMSVR</text>
<path d="M477.40 184.28h11.7" stroke="#f2c24a" stroke-width="0.7" opacity="0.65"/>
<circle cx="483.40" cy="184.28" r="1.3" fill="#f4bc40"/>
<text x="491.00" y="186.28" class="t" font-size="5.7">SVR-wlsqu</text>
<path d="M477.40 191.92h11.7" stroke="#c27fd6" stroke-width="0.7" opacity="0.65"/>
<path d="M483.40 190.02l1.4 1.9l-1.4 1.9l-1.4 -1.9z" fill="#cf62dc" stroke="#9c45ba" stroke-width="0.55" stroke-linejoin="round"/>
<text x="491.00" y="193.92" class="t" font-size="5.7">simulate annealing</text>
<path d="M477.40 199.56h11.7" stroke="#86c848" stroke-width="0.7" opacity="0.65"/>
<circle cx="483.40" cy="199.56" r="1.35" fill="#58a818"/>
<text x="491.00" y="201.56" class="t" font-size="5.7">proposed</text>
<text x="457.2" y="300" class="cap" text-anchor="middle">(e)</text>
</g>
</g>
</svg>
</body></html>
